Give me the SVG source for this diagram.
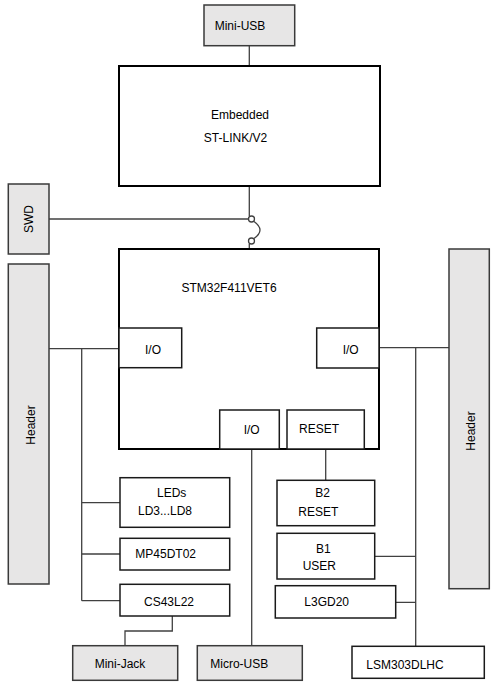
<svg xmlns="http://www.w3.org/2000/svg" width="499" height="685" viewBox="0 0 499 685">
<style>
text{font-family:"Liberation Sans",Arial,sans-serif;font-size:12px;fill:#000;text-anchor:middle;dominant-baseline:central}
.b{fill:#fff;stroke:#1a1a1a;stroke-width:1.5}
.t{fill:#fff;stroke:#000;stroke-width:2}
.g{fill:#e7e6e6;stroke:#3a3a3a;stroke-width:1.5}
.c{fill:none;stroke:#404040;stroke-width:1.3}
</style>
<rect width="499" height="685" fill="#fff"/>
<g id="connectors">
<path class="c" d="M249.3,45.7V66"/>
<path class="c" d="M249.3,186V216"/>
<path class="c" d="M49,219H248.5"/>
<circle class="c" cx="251.5" cy="219" r="3"/>
<path class="c" d="M254,221.5Q266,230 254,238.5"/>
<circle class="c" cx="251.5" cy="241" r="3"/>
<path class="c" d="M249.3,244V249"/>
<path class="c" d="M49,348.7H119M81.7,348.7V600.7M81.7,502.7H120M81.7,554H120M81.7,600.7H120"/>
<path class="c" d="M172.3,616V631H125V645.7"/>
<path class="c" d="M251.7,449V645.7"/>
<path class="c" d="M325.7,449V480.3"/>
<path class="c" d="M379,347.7H449M415.7,347.7V646.3M374.7,556.3H415.7M395.7,602.3H415.7"/>
</g>
<g id="mini-usb"><rect class="g" x="204" y="5" width="90.7" height="40.7"/><text x="240" y="25.5">Mini-USB</text></g>
<g id="stlink"><rect class="t" x="119" y="66" width="261" height="120"/><text x="240" y="115">Embedded</text><text x="235.5" y="138">ST-LINK/V2</text></g>
<g id="swd"><rect class="g" x="8.3" y="184" width="40.7" height="70"/><text transform="translate(29,219) rotate(-90)">SWD</text></g>
<g id="header-left"><rect class="g" x="8.3" y="264" width="40.7" height="320"/><text transform="translate(31,425) rotate(-90)">Header</text></g>
<g id="header-right"><rect class="g" x="449" y="249" width="40.3" height="339.7"/><text transform="translate(471,431) rotate(-90)">Header</text></g>
<g id="stm32"><rect class="t" x="119" y="249" width="260" height="200"/><text x="229" y="288">STM32F411VET6</text></g>
<g id="io-left"><rect class="b" x="119" y="328" width="62.7" height="39.7"/><text x="153" y="350">I/O</text></g>
<g id="io-right"><rect class="b" x="316.7" y="328" width="62.3" height="40"/><text x="350.7" y="350">I/O</text></g>
<g id="io-bottom"><rect class="b" x="219.7" y="410" width="59.6" height="39"/><text x="251.7" y="430">I/O</text></g>
<g id="reset"><rect class="b" x="287" y="410" width="77.3" height="39"/><text x="319" y="429">RESET</text></g>
<g id="leds"><rect class="b" x="120" y="477.7" width="109.7" height="49.6"/><text x="171.7" y="492.7">LEDs</text><text x="165" y="510.7">LD3...LD8</text></g>
<g id="mp45dt02"><rect class="b" x="120" y="538.3" width="109.7" height="31.7"/><text x="165.7" y="554.3">MP45DT02</text></g>
<g id="cs43l22"><rect class="b" x="120" y="584.3" width="109.7" height="31.7"/><text x="169" y="602.3">CS43L22</text></g>
<g id="mini-jack"><rect class="g" x="72.7" y="645.7" width="105" height="34.6"/><text x="120" y="664">Mini-Jack</text></g>
<g id="micro-usb"><rect class="g" x="197.3" y="645.7" width="105" height="34.6"/><text x="239.3" y="664">Micro-USB</text></g>
<g id="b2"><rect class="b" x="277" y="480.3" width="97.7" height="45.4"/><text x="322.7" y="493.3">B2</text><text x="318.3" y="511.7">RESET</text></g>
<g id="b1"><rect class="b" x="277" y="533.3" width="97.7" height="45.7"/><text x="323.3" y="548.7">B1</text><text x="319.3" y="566.3">USER</text></g>
<g id="l3gd20"><rect class="b" x="275.3" y="585.7" width="120.4" height="32.3"/><text x="326.7" y="601.7">L3GD20</text></g>
<g id="lsm303dlhc"><rect class="b" x="352" y="646.3" width="132.3" height="32"/><text x="405" y="664.7">LSM303DLHC</text></g>
</svg>
